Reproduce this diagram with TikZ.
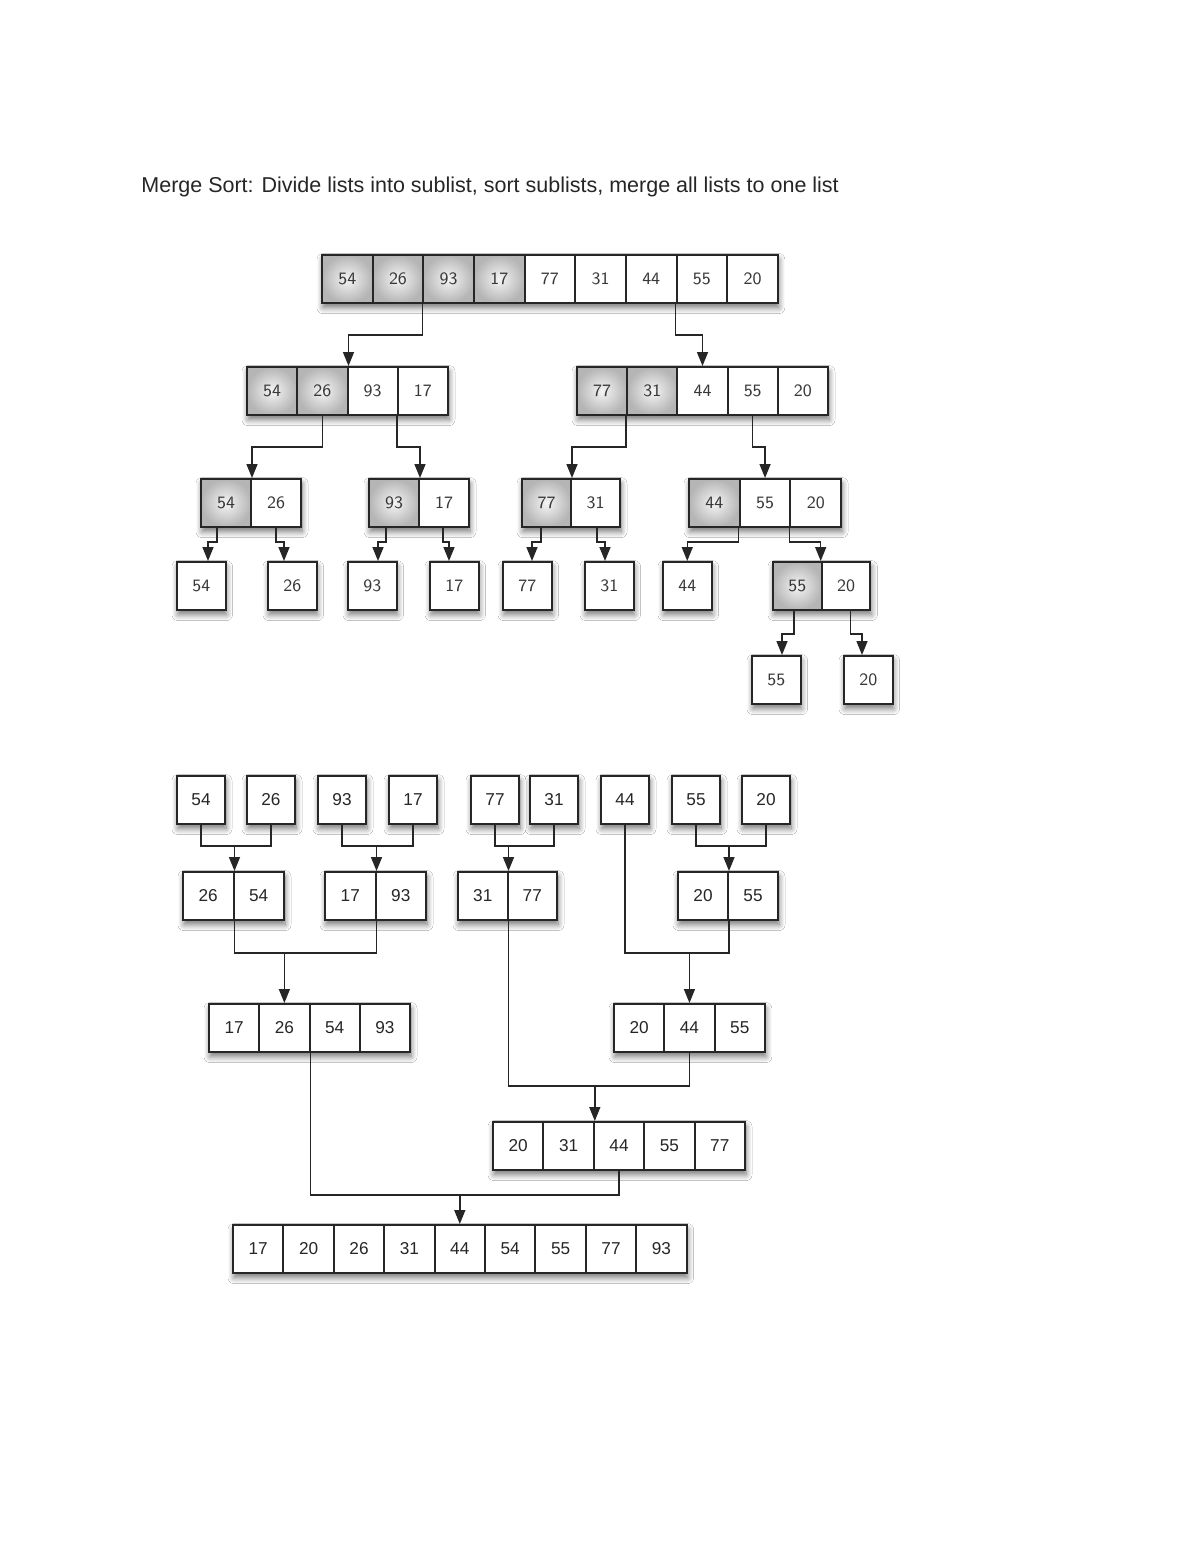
\documentclass[tikz,border=0pt]{standalone}
\usepackage{fontspec}
\newfontfamily\arialf{Liberation Sans}
\usetikzlibrary{arrows.meta,calc,shadows.blur}
\tikzset{
  cellbase/.style={draw=black!85, line width=1pt, inner sep=0pt, minimum height=24pt, anchor=north west, fill=white},
  topcell/.style={cellbase, font=\sffamily\fontsize{8.7}{10}\selectfont, text=black!78},
  botcell/.style={cellbase, font=\arialf\fontsize{8.6}{10}\selectfont, text=black!85},
  sh/.style={inner color=gray!8, outer color=gray!58},
  n/.style={},
  rowbg/.style={fill=white, blur shadow={shadow xshift=1pt, shadow yshift=-2.8pt, shadow blur steps=8, shadow opacity=55, shadow blur radius=3pt}},
  conn/.style={draw=black!85, line width=0.75pt, -{Triangle[length=7pt,width=5.5pt]}},
  link/.style={draw=black!85, line width=0.75pt},
}
\newcommand\cellrow[7]{%
  \path[rowbg] (#3,#4) rectangle ++({#5*#6},48);
  \foreach \v/\s [count=\i] in {#7} {
    \node[#2,\s,minimum width={#5*0.5pt}] (#1-\i) at ({#3+(\i-1)*#5},#4) {\v};
  }
}
\begin{document}
\begin{tikzpicture}[x=0.5pt,y=-0.5pt]
\fill[white] (0,0) rectangle (1200,1553);
\useasboundingbox (0,0) rectangle (1200,1553);
\node[anchor=base west, inner sep=0pt, font=\arialf\fontsize{10.75}{12}\selectfont, text=black!85] (title) at (141,192) {Merge Sort: Divide lists into sublist, sort sublists, merge all lists to one list};
% ---------- divide ----------
\cellrow{t1}{topcell}{321}{254}{50.65}{9}{54/sh,26/sh,93/sh,17/sh,77/n,31/n,44/n,55/n,20/n}
\cellrow{t2a}{topcell}{246}{366}{50.25}{4}{54/sh,26/sh,93/n,17/n}
\cellrow{t2b}{topcell}{576}{366}{50.2}{5}{77/sh,31/sh,44/n,55/n,20/n}
\cellrow{t3a}{topcell}{200}{478}{50}{2}{54/sh,26/n}
\cellrow{t3b}{topcell}{368}{478}{50}{2}{93/sh,17/n}
\cellrow{t3c}{topcell}{521}{478}{49}{2}{77/sh,31/n}
\cellrow{t3d}{topcell}{688}{478}{50.7}{3}{44/sh,55/n,20/n}
\cellrow{l1}{topcell}{176}{561}{48.5}{1}{54/n}
\cellrow{l2}{topcell}{267}{561}{48.5}{1}{26/n}
\cellrow{l3}{topcell}{347}{561}{48.5}{1}{93/n}
\cellrow{l4}{topcell}{429}{561}{48.5}{1}{17/n}
\cellrow{l5}{topcell}{502}{561}{48.5}{1}{77/n}
\cellrow{l6}{topcell}{584}{561}{48.5}{1}{31/n}
\cellrow{l7}{topcell}{662}{561}{48.5}{1}{44/n}
\cellrow{t4e}{topcell}{772}{561}{48.7}{2}{55/sh,20/n}
\cellrow{l8}{topcell}{751}{655}{48.5}{1}{55/n}
\cellrow{l9}{topcell}{843}{655}{48.5}{1}{20/n}
\draw[conn] (t1-3.south west) -- ++(0,31) -| (t2a-2.north east);
\draw[conn] (t1-8.south west) -- ++(0,31) -| (t2b-3.north);
\draw[conn] (t2a-2.south) -- ++(0,31) -| (t3a-1.north east);
\draw[conn] (t2a-4.south west) -- ++(0,31) -| (t3b-1.north east);
\draw[conn] (t2b-2.south west) -- ++(0,31) -| (t3c-1.north east);
\draw[conn] (t2b-4.south) -- ++(0,31) -| (t3d-2.north);
\draw[conn] ($(t3a-1.south west)+(17,0)$) -- ++(0,14) -| ($(l1-1.north west)+(32,0)$);
\draw[conn] ($(t3a-2.south west)+(26,0)$) -- ++(0,14) -| ($(l2-1.north west)+(17,0)$);
\draw[conn] ($(t3b-1.south west)+(18,0)$) -- ++(0,14) -| ($(l3-1.north west)+(31,0)$);
\draw[conn] ($(t3b-2.south west)+(25,0)$) -- ++(0,14) -| ($(l4-1.north west)+(20,0)$);
\draw[conn] ($(t3c-1.south west)+(20,0)$) -- ++(0,14) -| ($(l5-1.north west)+(30,0)$);
\draw[conn] ($(t3c-2.south west)+(27,0)$) -- ++(0,14) -| ($(l6-1.north west)+(21,0)$);
\draw[conn] (t3d-2.south west) -- ++(0,14) -| (l7-1.north);
\draw[conn] (t3d-3.south west) -- ++(0,14) -| (t4e-2.north west);
\draw[conn] ($(t4e-1.south west)+(22,0)$) -- ++(0,23) -| ($(l8-1.north west)+(31,0)$);
\draw[conn] ($(t4e-2.south west)+(30,0)$) -- ++(0,23) -| ($(l9-1.north west)+(19,0)$);
% ---------- merge ----------
\cellrow{a1}{botcell}{176}{775}{48}{1}{54/n}
\cellrow{a2}{botcell}{246}{775}{48}{1}{26/n}
\cellrow{a3}{botcell}{317}{775}{48}{1}{93/n}
\cellrow{a4}{botcell}{388}{775}{48}{1}{17/n}
\cellrow{a5}{botcell}{470}{775}{48}{1}{77/n}
\cellrow{a6}{botcell}{529}{775}{48}{1}{31/n}
\cellrow{a7}{botcell}{600}{775}{48}{1}{44/n}
\cellrow{a8}{botcell}{671}{775}{48}{1}{55/n}
\cellrow{a9}{botcell}{741}{775}{48}{1}{20/n}
\cellrow{b1}{botcell}{182}{871}{50.5}{2}{26/n,54/n}
\cellrow{b2}{botcell}{324}{871}{50.5}{2}{17/n,93/n}
\cellrow{b3}{botcell}{457}{871}{49.5}{2}{31/n,77/n}
\cellrow{b4}{botcell}{677}{871}{50}{2}{20/n,55/n}
\cellrow{c1}{botcell}{208}{1003}{50.25}{4}{17/n,26/n,54/n,93/n}
\cellrow{c2}{botcell}{613}{1003}{50.3}{3}{20/n,44/n,55/n}
\cellrow{d}{botcell}{492}{1121}{50.4}{5}{20/n,31/n,44/n,55/n,77/n}
\cellrow{e}{botcell}{232}{1224}{50.4}{9}{17/n,20/n,26/n,31/n,44/n,54/n,55/n,77/n,93/n}
\coordinate (m1) at ($(b1-1.north east)+(0,-25)$);
\coordinate (m2) at ($(b2-1.north east)+(0,-25)$);
\coordinate (m3) at ($(b3-1.north east)+(0,-25)$);
\coordinate (m4) at ($(b4-1.north east)+(0,-25)$);
\draw[link] (a1-1.south) |- (m1) -| (a2-1.south);
\draw[link] (a3-1.south) |- (m2) -| (a4-1.south);
\draw[link] (a5-1.south) |- (m3) -| (a6-1.south);
\draw[link] (a8-1.south) |- (m4) -| (a9-1.south);
\draw[conn] (m1) -- (b1-1.north east);
\draw[conn] (m2) -- (b2-1.north east);
\draw[conn] (m3) -- (b3-1.north east);
\draw[conn] (m4) -- (b4-1.north east);
\coordinate (m5) at ($(c1-2.north)+(0,-50)$);
\coordinate (m6) at ($(c2-2.north)+(0,-50)$);
\draw[link] (b1-1.south east) |- (m5) -| (b2-1.south east);
\draw[link] (a7-1.south) |- (m6) -| (b4-1.south east);
\draw[conn] (m5) -- (c1-2.north);
\draw[conn] (m6) -- (c2-2.north);
\coordinate (m7) at ($(d-2.north east)+(0,-35)$);
\draw[link] (b3-1.south east) |- (m7) -| (c2-2.south);
\draw[conn] (m7) -- (d-2.north east);
\coordinate (m8) at ($(e-5.north)+(0,-29)$);
\draw[link] (c1-2.south east) |- (m8) -| (d-3.south);
\draw[conn] (m8) -- (e-5.north);
\end{tikzpicture}
\end{document}
